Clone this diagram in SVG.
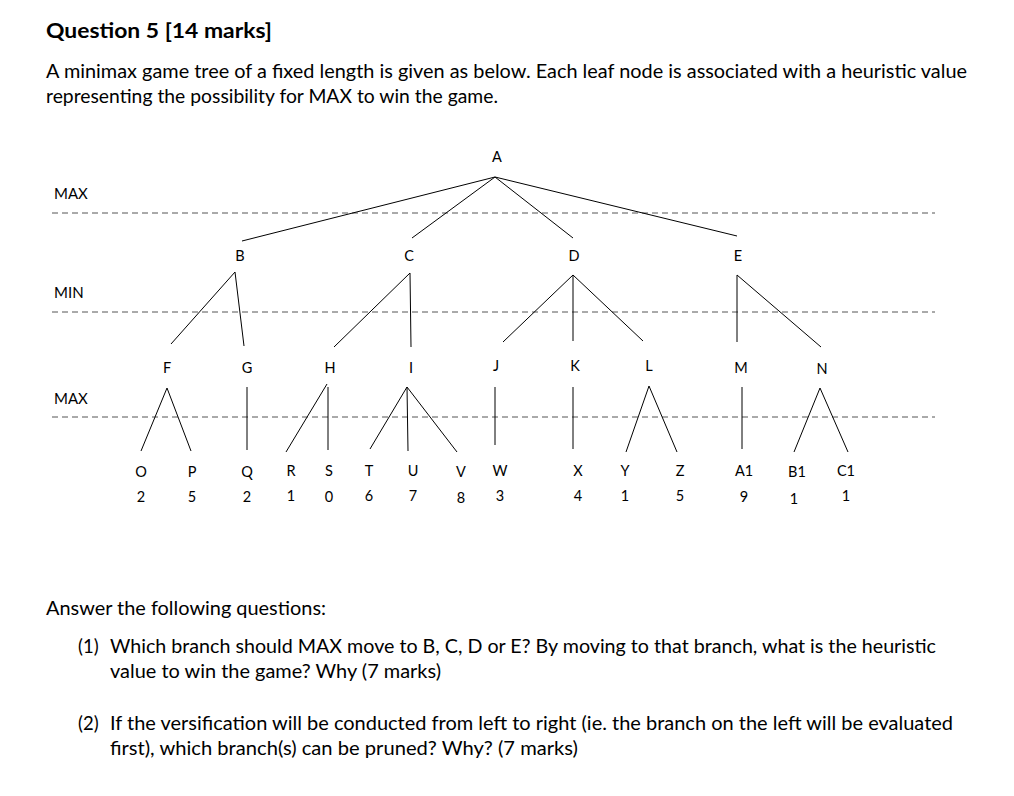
<svg xmlns="http://www.w3.org/2000/svg" width="1014" height="796" viewBox="0 0 1014 796">
<style>
text{font-family:Lato,"Open Sans","Liberation Sans",sans-serif;fill:#000}
.p{font-size:18.5px}
.n{font-size:14.5px;text-anchor:middle}
.lv{font-size:15px}
.e{stroke:#000;stroke-width:1;fill:none}
.d{stroke:#555;stroke-width:1;stroke-dasharray:6,4}
</style>
<rect width="1014" height="796" fill="#fff"/>
<text x="46" y="38" style="font-size:21px;font-weight:bold" textLength="226" lengthAdjust="spacingAndGlyphs">Question 5 [14 marks]</text>
<text class="p" x="46" y="78" textLength="921" lengthAdjust="spacingAndGlyphs">A minimax game tree of a fixed length is given as below. Each leaf node is associated with a heuristic value</text>
<text class="p" x="46" y="103" textLength="452" lengthAdjust="spacingAndGlyphs">representing the possibility for MAX to win the game.</text>
<g id="levels">
<line class="d" x1="52" y1="213" x2="935" y2="213"/>
<line class="d" x1="52" y1="312" x2="935" y2="312"/>
<line class="d" x1="52" y1="417" x2="935" y2="417"/>
<text class="lv" x="54" y="199">MAX</text>
<text class="lv" x="54" y="298">MIN</text>
<text class="lv" x="54" y="404">MAX</text>
</g>
<g id="connectors">
<path class="e" d="M495 177L242 241M495 177L412 238M495 177L573 238M495 177L737 236"/>
<path class="e" d="M235 272L171 344M235 272L244 346M410 273L334 347M410 273L411 347M573 275L503 342M573 275L573 341M573 275L643 341M737 275L737 342M737 275L821 347"/>
<path class="e" d="M167 388L141 451M167 388L191 451M247 387L247 450M327 384L286 452M328 387L328 450M407 387L370 449M407 387L408 451M407 387L457 452M495 387L495 445"/>
<path class="e" d="M573 387L573 449M649 386L626 452M649 386L677 452M742 387L742 449M820 388L794 452M820 388L848 452"/>
</g>
<g id="A"><text class="n" x="497" y="162">A</text></g>
<g id="B"><text class="n" x="240" y="261">B</text></g>
<g id="C"><text class="n" x="409" y="261">C</text></g>
<g id="D"><text class="n" x="574" y="261">D</text></g>
<g id="E"><text class="n" x="738" y="261">E</text></g>
<g id="F"><text class="n" x="167" y="373">F</text></g>
<g id="G"><text class="n" x="247" y="373">G</text></g>
<g id="H"><text class="n" x="330" y="373">H</text></g>
<g id="I"><text class="n" x="411" y="373">I</text></g>
<g id="J"><text class="n" x="496" y="371">J</text></g>
<g id="K"><text class="n" x="575" y="371">K</text></g>
<g id="L"><text class="n" x="649" y="371">L</text></g>
<g id="M"><text class="n" x="741" y="373">M</text></g>
<g id="N"><text class="n" x="822" y="374">N</text></g>
<g id="leaves">
<text class="n" x="141" y="477">O</text><text class="n" x="141" y="502">2</text>
<text class="n" x="192" y="477">P</text><text class="n" x="192" y="502">5</text>
<text class="n" x="247" y="477">Q</text><text class="n" x="247" y="502">2</text>
<text class="n" x="291" y="476">R</text><text class="n" x="291" y="501">1</text>
<text class="n" x="329" y="476">S</text><text class="n" x="329" y="502">0</text>
<text class="n" x="369" y="476">T</text><text class="n" x="369" y="501">6</text>
<text class="n" x="413" y="476">U</text><text class="n" x="413" y="501">7</text>
<text class="n" x="461" y="477">V</text><text class="n" x="461" y="503">8</text>
<text class="n" x="500" y="476">W</text><text class="n" x="500" y="501">3</text>
<text class="n" x="578" y="476">X</text><text class="n" x="578" y="501">4</text>
<text class="n" x="625" y="476">Y</text><text class="n" x="625" y="501">1</text>
<text class="n" x="680" y="476">Z</text><text class="n" x="680" y="501">5</text>
<text class="n" x="744" y="476">A1</text><text class="n" x="744" y="502">9</text>
<text class="n" x="797" y="477">B1</text><text class="n" x="794" y="504">1</text>
<text class="n" x="846" y="476">C1</text><text class="n" x="846" y="501">1</text>
</g>
<text class="p" x="46" y="615" textLength="280" lengthAdjust="spacingAndGlyphs">Answer the following questions:</text>
<text class="p" x="78" y="653">(1)</text>
<text class="p" x="110" y="653" textLength="826" lengthAdjust="spacingAndGlyphs">Which branch should MAX move to B, C, D or E? By moving to that branch, what is the heuristic</text>
<text class="p" x="110" y="678" textLength="331" lengthAdjust="spacingAndGlyphs">value to win the game? Why (7 marks)</text>
<text class="p" x="78" y="730">(2)</text>
<text class="p" x="110" y="730" textLength="843" lengthAdjust="spacingAndGlyphs">If the versification will be conducted from left to right (ie. the branch on the left will be evaluated</text>
<text class="p" x="110" y="755" textLength="468" lengthAdjust="spacingAndGlyphs">first), which branch(s) can be pruned? Why? (7 marks)</text>
</svg>
